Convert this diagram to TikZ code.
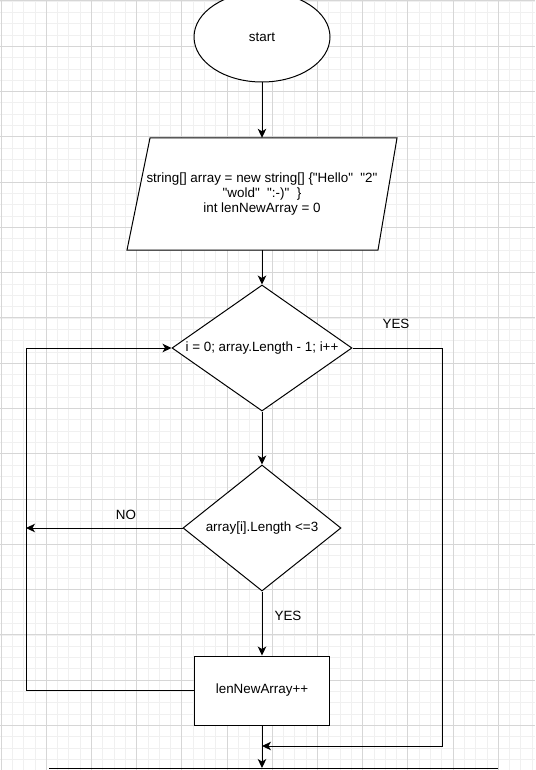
\documentclass[tikz,border=0pt]{standalone}
\usepackage{fontspec}
\newfontfamily\arialf{Liberation Sans}
\usetikzlibrary{shapes.geometric,arrows.meta,calc}
\definecolor{minorg}{HTML}{F0F0F0}
\definecolor{majorg}{HTML}{D6D6D6}
\begin{document}
\begin{tikzpicture}[x=1pt,y=-1pt,
  font=\arialf\fontsize{13.4}{15}\selectfont,
  shapeline/.style={draw=black,line width=1pt,fill=white},
  conn/.style={draw=black,line width=1pt},
  arr/.style={conn,-{Stealth[length=9pt,width=8.5pt,inset=2.5pt]}},
  dia/.style={shape=diamond,shapeline,inner sep=0pt},
  txt/.style={inner sep=0pt,text=black,align=center},
  minorline/.style={draw=minorg,line width=0.8pt},
  majorline/.style={draw=majorg,line width=1pt}]
\fill[white] (0,0) rectangle (535,770);
\useasboundingbox (0,0) rectangle (535,770);
% grid
\foreach \i in {0,...,48}{\draw[minorline] ({1+\i*11.3},0) -- ({1+\i*11.3},770);}
\foreach \i in {0,...,68}{\draw[minorline] (0,{1+\i*11.32}) -- (535,{1+\i*11.32});}
\foreach \i in {0,...,12}{\draw[majorline] ({1+\i*45.2},0) -- ({1+\i*45.2},770);}
\foreach \i in {0,...,17}{\draw[majorline] (0,{1+\i*45.28}) -- (535,{1+\i*45.28});}
% shapes
\node[shape=ellipse,shapeline,minimum width=136pt,minimum height=90pt] (start) at (262,37) {start};
\draw[shapeline] (150,138) -- (397,138) -- (378,250) -- (127,250) -- cycle;
\node[txt,minimum height=112pt] (par) at (262,194)
  {string[] array = new string[] \{"Hello"~~"2"\\ "wold"~~":-)"~~\}\\ int lenNewArray = 0};
\node[dia,minimum width=180pt,minimum height=126pt] (d1) at (262,348) {};
\node[txt] (d1t) at (d1.center) {i = 0; array.Length - 1; i++};
\node[dia,minimum width=158pt,minimum height=126pt] (d2) at (262,528) {};
\node[txt] (d2t) at (d2.center) {array[i].Length <=3};
\node[shapeline,rectangle,minimum width=134.5pt,minimum height=69pt,inner sep=0pt] (box) at (262,690.5) {lenNewArray++};
% labels
\node[txt] (yes1) at (396,324) {YES};
\node[txt] (no) at (126,515) {NO};
\node[txt] (yes2) at (288,616) {YES};
% helper coordinates
\coordinate (lx) at (26,528);
\coordinate (rx) at (442,348);
\coordinate (join) at (262,746);
\coordinate (endc) at (262,768);
% connectors
\draw[arr] (start.south) -- (par.north);
\draw[arr] (par.south) -- (d1.north);
\draw[arr] (d1.south) -- (d2.north);
\draw[arr] (d2.south) -- (box.north);
\draw[arr] (d2.west) -- (lx);
\draw[arr] (box.west) -- (lx |- box.west) -- (lx |- d1.west) -- (d1.west);
\draw[arr] (d1.east) -- (rx) -- (rx |- join) -- (join);
\draw[arr] (box.south) -- (endc);
\draw[conn,line width=1.3pt] (49,768.6) -- (498,768.6);
\end{tikzpicture}
\end{document}
